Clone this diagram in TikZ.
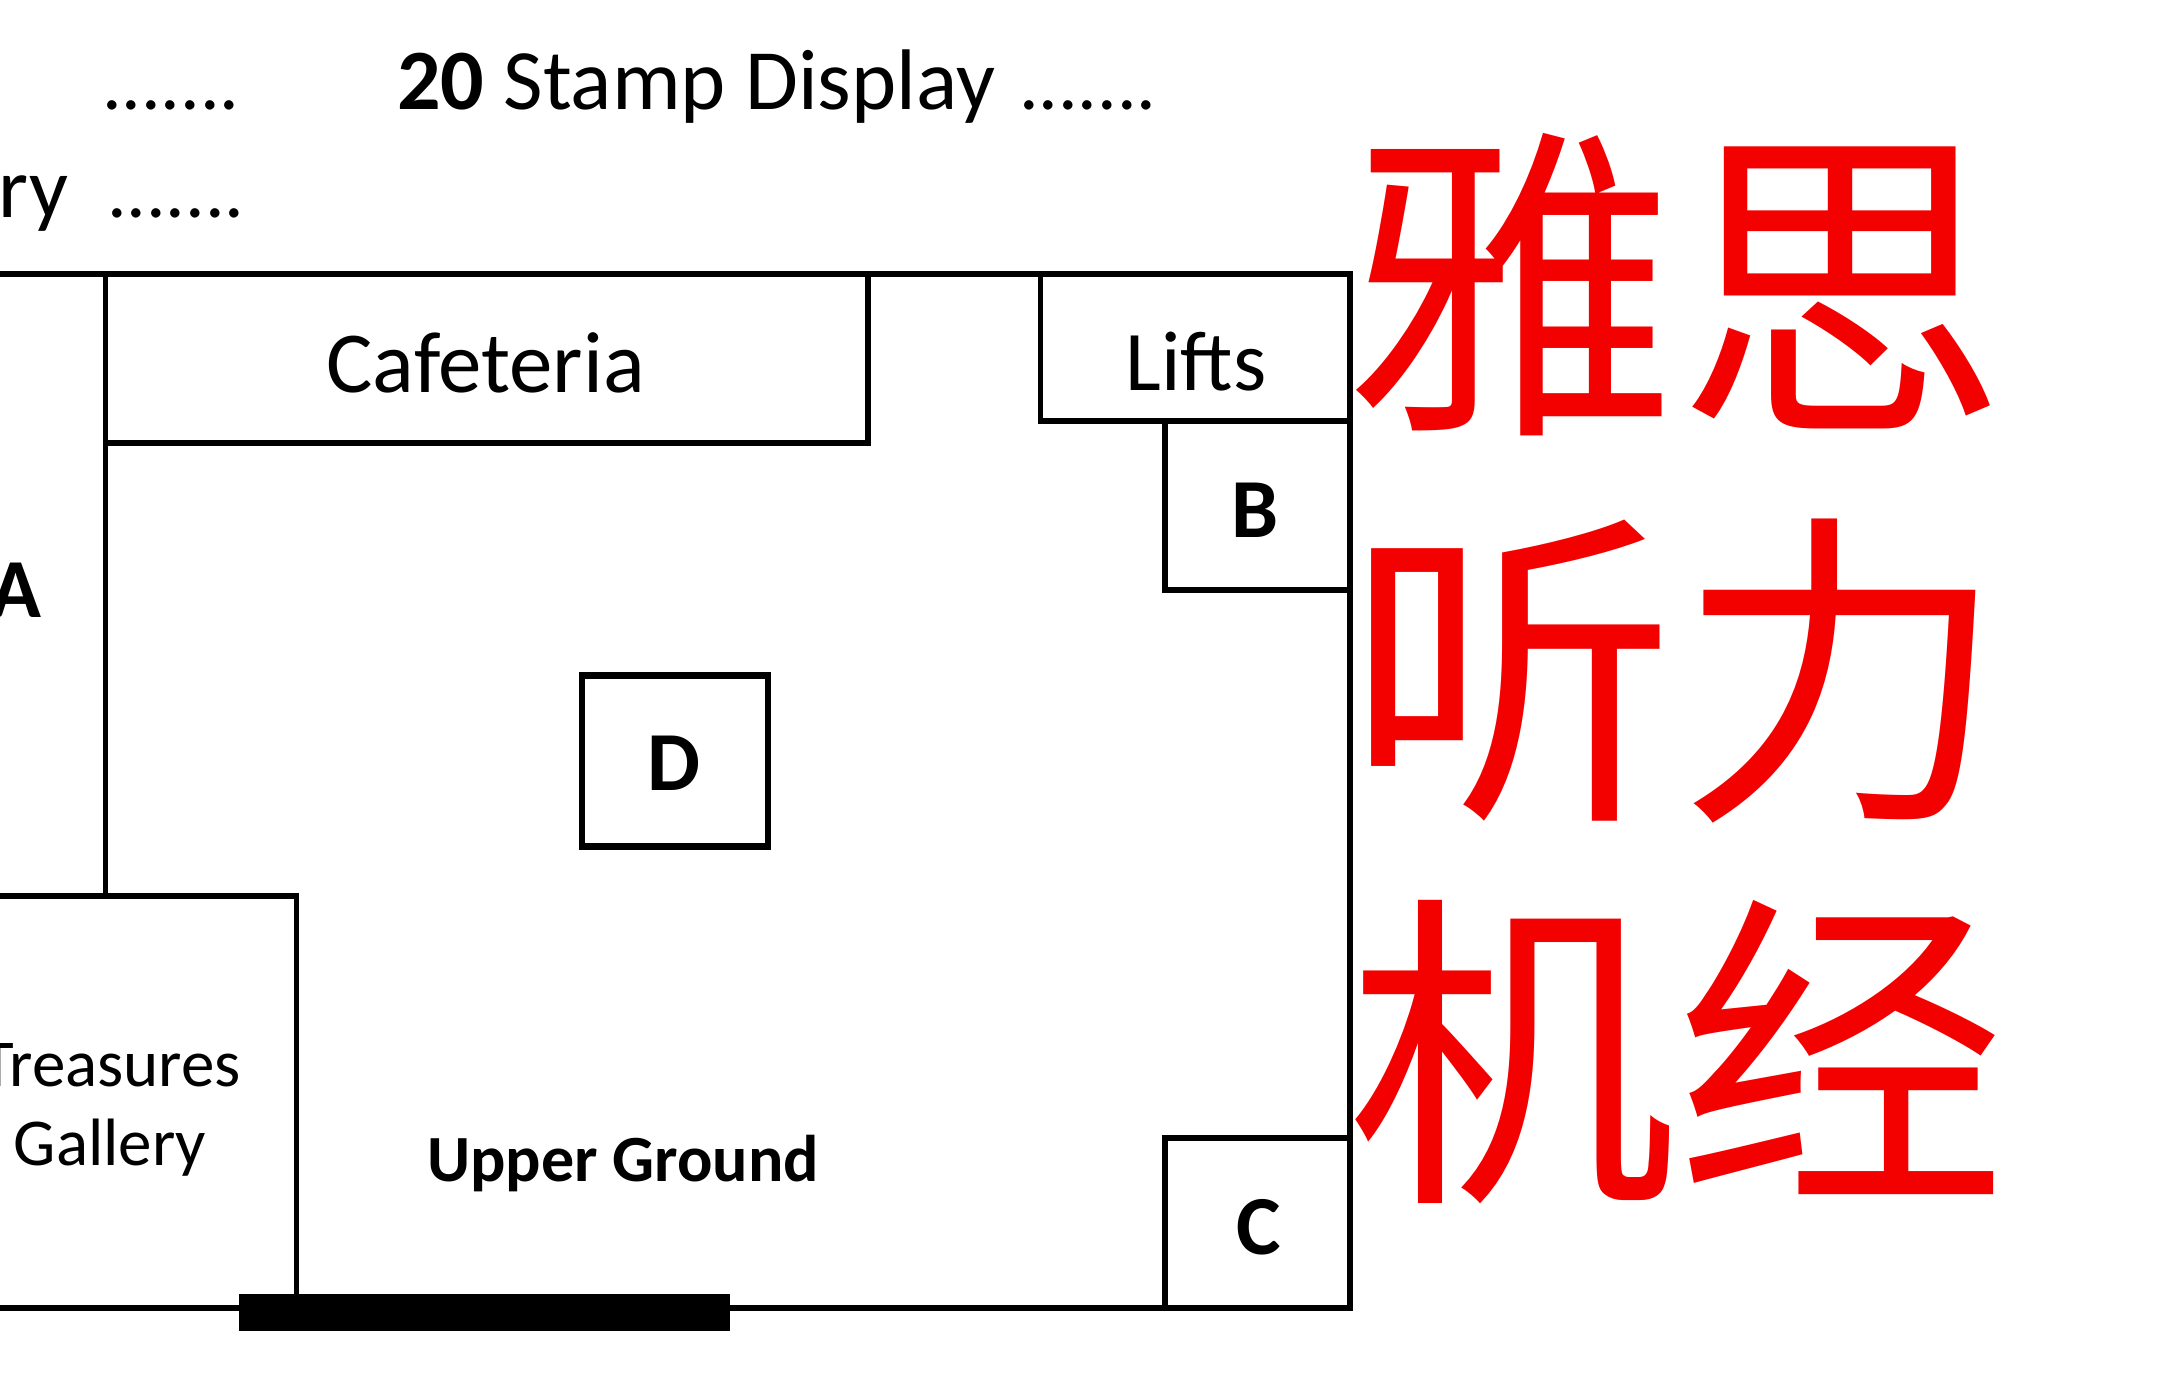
\documentclass[tikz,border=0pt]{standalone}
\usepackage{fontspec}
\setmainfont{Carlito}
\newfontfamily\cjk{Noto Sans CJK SC}
\definecolor{hanred}{RGB}{243,0,0}
\tikzset{
  wall/.style={draw=black,line width=6.5pt,line join=miter},
  thin wall/.style={draw=black,line width=5.5pt,line join=miter},
  label/.style={inner sep=0pt,outer sep=0pt,font=\fontsize{86}{86}\selectfont},
  dotrow/.style={inner sep=0pt,outer sep=0pt,font=\fontsize{78}{78}\selectfont},
  small/.style={inner sep=0pt,outer sep=0pt,font=\fontsize{67}{67}\selectfont},
  letter/.style={inner sep=0pt,outer sep=0pt,font=\fontsize{84}{84}\selectfont\bfseries},
  ground/.style={inner sep=0pt,outer sep=0pt,font=\fontsize{66}{66}\selectfont\bfseries},
  han/.style={inner sep=0pt,outer sep=0pt,text=hanred,font=\fontsize{330}{330}\cjk}
}
\begin{document}
\begin{tikzpicture}[x=1pt,y=-1pt]
\useasboundingbox (0,0) rectangle (2161,1392);
% outer plan
\draw[wall] (-10,274) -- (1350,274) -- (1350,1308) -- (-10,1308);
% left wall, treasures gallery
\draw[thin wall] (105.5,274) -- (105.5,896);
\draw[wall] (-10,896) -- (299.25,896);
\draw[thin wall] (296.5,893) -- (296.5,1308);
% cafeteria
\draw[thin wall] (868,274) -- (868,446);
\draw[wall] (105.5,443) -- (870.75,443);
% lifts
\draw[thin wall] (1040.5,274) -- (1040.5,424);
\draw[wall] (1037.75,421) -- (1350,421);
% B
\draw[thin wall] (1165,421) -- (1165,590) -- (1350,590);
% D
\draw[wall] (582,675.5) rectangle (768,846.5);
% C
\draw[thin wall] (1165,1308) -- (1165,1138);
\draw[wall] (1162.25,1138) -- (1350,1138);
% entrance
\fill[black] (238.5,1293.5) rectangle (729.5,1331);
% texts
\node[dotrow,anchor=base west] (dotsa) at (102,109) {.......};
\node[label,anchor=base west] (stamp) at (397,109) {\textbf{20} Stamp Display};
\node[dotrow,anchor=base west] (dotsc) at (1019,109) {.......};
\node[label,anchor=base east] (ry) at (68,217) {ry};
\node[dotrow,anchor=base west] (dotsb) at (107,217) {.......};
\node[label,anchor=base,font=\fontsize{87}{87}\selectfont] (cafe) at (485.5,392) {Cafeteria};
\node[label,anchor=base,font=\fontsize{85}{85}\selectfont] (lifts) at (1196,390) {Lifts};
\node[letter,anchor=base east] (a) at (41,617) {A};
\node[letter,anchor=base] (b) at (1255,537) {B};
\node[letter,anchor=base] (d) at (674,790) {D};
\node[letter,anchor=base] (c) at (1259,1254) {C};
\node[small,anchor=base east] (treas) at (241,1086) {Treasures};
\node[small,anchor=base] (gal) at (110,1165) {Gallery};
\node[ground,anchor=base] (ug) at (623,1181) {Upper Ground};
\node[han] (h1) at (1676,285) {雅思};
\node[han] (h2) at (1676,671) {听力};
\node[han] (h3) at (1676,1052) {机经};
\end{tikzpicture}
\end{document}
